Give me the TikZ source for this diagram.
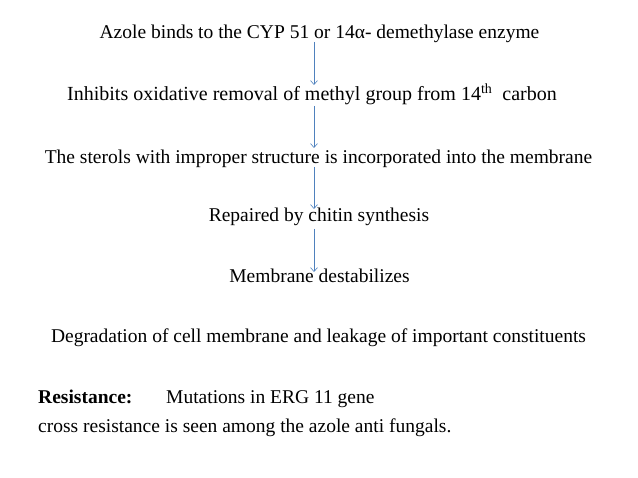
\documentclass[tikz,border=0pt]{standalone}
\usepackage{fontspec}
\setmainfont{Liberation Serif}
\usepackage{tikz}
\usetikzlibrary{calc,arrows.meta}
\usepackage{xcolor}
\definecolor{arrowblue}{RGB}{79,129,189}

\begin{document}
\begin{tikzpicture}[x=1pt,y=-1pt,
        stepline/.style={inner sep=0pt, anchor=base, font=\fontsize{19.5}{23}\selectfont},
        flow/.style={-{Straight Barb[length=4pt,width=7pt]}, arrowblue, line width=0.6pt},
        ]
        \useasboundingbox (0,0) rectangle (638,478);
        \node (step1) at (319.5,39) [stepline] {Azole binds to the CYP 51 or 14α- demethylase enzyme};
        \node (step2) at (312,101) [stepline, font=\fontsize{20}{23}\selectfont] {Inhibits oxidative removal of methyl group from 14\textsuperscript{th}\ \ carbon};
        \node (step3) at (318.5,164) [stepline] {The sterols with improper structure is incorporated into the membrane};
        \node (step4) at (319,222) [stepline] {Repaired by chitin synthesis};
        \node (step5) at (319.5,283) [stepline] {Membrane destabilizes};
        \node (step6) at (318.5,343) [stepline] {Degradation of cell membrane and leakage of important constituents};
        
        \node (res) at (38,404) [stepline, anchor=base west] {\textbf{Resistance:}};
        \node (mut) at (166,404) [stepline, anchor=base west] {Mutations in ERG 11 gene};
        \node (cross) at (38,433) [stepline, anchor=base west] {cross resistance is seen among the azole anti fungals.};

        % arrows between the steps
        \coordinate (a1) at (314,42);
        \coordinate (a2) at (314,106);
        \coordinate (a3) at (314,167);
        \coordinate (a4) at (314,229);
        \draw[flow] (a1) -- (a1 |- 0,85);
        \draw[flow] (a2) -- (a2 |- 0,148);
        \draw[flow] (a3) -- (a3 |- 0,209);
        \draw[flow] (a4) -- (a4 |- 0,272);
    \end{tikzpicture}
\end{document}
